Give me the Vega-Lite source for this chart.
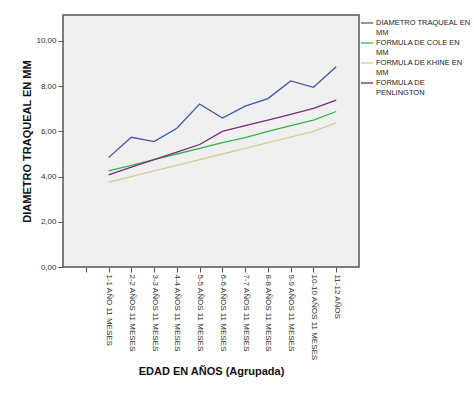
{
  "$schema": "https://vega.github.io/schema/vega-lite/v6.json",
  "autosize": {"type": "none"},
  "padding": {"left": 63, "top": 15, "right": 115, "bottom": 132},
  "width": 296,
  "height": 252,
  "background": "white",
  "config": {
    "font": "Liberation Sans",
    "view": {"fill": "#F0F0F0", "stroke": "#555555", "strokeWidth": 1.5},
    "axis": {"grid": false, "domain": false, "tickColor": "#555555", "tickSize": 5, "labelColor": "#333333", "labelFontSize": 8, "titleFontSize": 11, "titleFontWeight": "bold", "titleColor": "#111111"}
  },
  "data": {
    "values": [
      {"edad": "1-1 AÑO 11 MESES", "serie": "DIAMETRO TRAQUEAL EN MM", "valor": 4.84},
      {"edad": "2-2 AÑOS 11 MESES", "serie": "DIAMETRO TRAQUEAL EN MM", "valor": 5.74},
      {"edad": "3-3 AÑOS 11 MESES", "serie": "DIAMETRO TRAQUEAL EN MM", "valor": 5.55},
      {"edad": "4-4 AÑOS 11 MESES", "serie": "DIAMETRO TRAQUEAL EN MM", "valor": 6.14},
      {"edad": "5-5 AÑOS 11 MESES", "serie": "DIAMETRO TRAQUEAL EN MM", "valor": 7.21},
      {"edad": "6-6 AÑOS 11 MESES", "serie": "DIAMETRO TRAQUEAL EN MM", "valor": 6.59},
      {"edad": "7-7 AÑOS 11 MESES", "serie": "DIAMETRO TRAQUEAL EN MM", "valor": 7.12},
      {"edad": "8-8 AÑOS 11 MESES", "serie": "DIAMETRO TRAQUEAL EN MM", "valor": 7.45},
      {"edad": "9-9 AÑOS 11 MESES", "serie": "DIAMETRO TRAQUEAL EN MM", "valor": 8.23},
      {"edad": "10-10 AÑOS 11 MESES", "serie": "DIAMETRO TRAQUEAL EN MM", "valor": 7.95},
      {"edad": "11-12 AÑOS", "serie": "DIAMETRO TRAQUEAL EN MM", "valor": 8.86},
      {"edad": "1-1 AÑO 11 MESES", "serie": "FORMULA DE COLE EN MM", "valor": 4.25},
      {"edad": "2-2 AÑOS 11 MESES", "serie": "FORMULA DE COLE EN MM", "valor": 4.5},
      {"edad": "3-3 AÑOS 11 MESES", "serie": "FORMULA DE COLE EN MM", "valor": 4.75},
      {"edad": "4-4 AÑOS 11 MESES", "serie": "FORMULA DE COLE EN MM", "valor": 5.0},
      {"edad": "5-5 AÑOS 11 MESES", "serie": "FORMULA DE COLE EN MM", "valor": 5.25},
      {"edad": "6-6 AÑOS 11 MESES", "serie": "FORMULA DE COLE EN MM", "valor": 5.5},
      {"edad": "7-7 AÑOS 11 MESES", "serie": "FORMULA DE COLE EN MM", "valor": 5.72},
      {"edad": "8-8 AÑOS 11 MESES", "serie": "FORMULA DE COLE EN MM", "valor": 6.0},
      {"edad": "9-9 AÑOS 11 MESES", "serie": "FORMULA DE COLE EN MM", "valor": 6.25},
      {"edad": "10-10 AÑOS 11 MESES", "serie": "FORMULA DE COLE EN MM", "valor": 6.5},
      {"edad": "11-12 AÑOS", "serie": "FORMULA DE COLE EN MM", "valor": 6.88},
      {"edad": "1-1 AÑO 11 MESES", "serie": "FORMULA DE KHINE EN MM", "valor": 3.75},
      {"edad": "2-2 AÑOS 11 MESES", "serie": "FORMULA DE KHINE EN MM", "valor": 4.0},
      {"edad": "3-3 AÑOS 11 MESES", "serie": "FORMULA DE KHINE EN MM", "valor": 4.25},
      {"edad": "4-4 AÑOS 11 MESES", "serie": "FORMULA DE KHINE EN MM", "valor": 4.5},
      {"edad": "5-5 AÑOS 11 MESES", "serie": "FORMULA DE KHINE EN MM", "valor": 4.75},
      {"edad": "6-6 AÑOS 11 MESES", "serie": "FORMULA DE KHINE EN MM", "valor": 5.0},
      {"edad": "7-7 AÑOS 11 MESES", "serie": "FORMULA DE KHINE EN MM", "valor": 5.25},
      {"edad": "8-8 AÑOS 11 MESES", "serie": "FORMULA DE KHINE EN MM", "valor": 5.5},
      {"edad": "9-9 AÑOS 11 MESES", "serie": "FORMULA DE KHINE EN MM", "valor": 5.75},
      {"edad": "10-10 AÑOS 11 MESES", "serie": "FORMULA DE KHINE EN MM", "valor": 6.0},
      {"edad": "11-12 AÑOS", "serie": "FORMULA DE KHINE EN MM", "valor": 6.38},
      {"edad": "1-1 AÑO 11 MESES", "serie": "FORMULA DE PENLINGTON", "valor": 4.08},
      {"edad": "2-2 AÑOS 11 MESES", "serie": "FORMULA DE PENLINGTON", "valor": 4.42},
      {"edad": "3-3 AÑOS 11 MESES", "serie": "FORMULA DE PENLINGTON", "valor": 4.75},
      {"edad": "4-4 AÑOS 11 MESES", "serie": "FORMULA DE PENLINGTON", "valor": 5.08},
      {"edad": "5-5 AÑOS 11 MESES", "serie": "FORMULA DE PENLINGTON", "valor": 5.42},
      {"edad": "6-6 AÑOS 11 MESES", "serie": "FORMULA DE PENLINGTON", "valor": 6.0},
      {"edad": "7-7 AÑOS 11 MESES", "serie": "FORMULA DE PENLINGTON", "valor": 6.25},
      {"edad": "8-8 AÑOS 11 MESES", "serie": "FORMULA DE PENLINGTON", "valor": 6.5},
      {"edad": "9-9 AÑOS 11 MESES", "serie": "FORMULA DE PENLINGTON", "valor": 6.75},
      {"edad": "10-10 AÑOS 11 MESES", "serie": "FORMULA DE PENLINGTON", "valor": 7.02},
      {"edad": "11-12 AÑOS", "serie": "FORMULA DE PENLINGTON", "valor": 7.38}
    ]
  },
  "mark": {"type": "line", "strokeWidth": 1.3},
  "encoding": {
    "x": {
      "field": "edad", "type": "ordinal",
      "scale": {"type": "point", "padding": 1.14, "domain": [" ", "1-1 AÑO 11 MESES", "2-2 AÑOS 11 MESES", "3-3 AÑOS 11 MESES", "4-4 AÑOS 11 MESES", "5-5 AÑOS 11 MESES", "6-6 AÑOS 11 MESES", "7-7 AÑOS 11 MESES", "8-8 AÑOS 11 MESES", "9-9 AÑOS 11 MESES", "10-10 AÑOS 11 MESES", "11-12 AÑOS"]},
      "sort": null,
      "axis": {"title": "EDAD EN AÑOS (Agrupada)", "labelAngle": 90, "labelAlign": "left", "labelBaseline": "middle", "labelPadding": 2, "titlePadding": 5, "labelLimit": 200}
    },
    "y": {
      "field": "valor", "type": "quantitative",
      "scale": {"domain": [0, 11.15], "nice": false},
      "axis": {"title": "DIAMETRO TRAQUEAL EN MM", "values": [0, 2, 4, 6, 8, 10], "labelExpr": "replace(format(datum.value, '.2f'), '.', ',')", "labelPadding": 2, "titlePadding": 3}
    },
    "color": {
      "field": "serie", "type": "nominal",
      "scale": {"domain": ["DIAMETRO TRAQUEAL EN MM", "FORMULA DE COLE EN MM", "FORMULA DE KHINE EN MM", "FORMULA DE PENLINGTON"], "range": ["#3E58AC", "#2EB848", "#D3CE97", "#7C287D"]},
      "legend": {
        "title": null, "orient": "none", "legendX": 297, "legendY": 1,
        "symbolType": "stroke", "symbolSize": 150, "symbolStrokeWidth": 1.3, "labelOffset": 2,
        "labelFontSize": 7.5, "labelColor": "#222222", "labelLimit": 200, "rowPadding": 0,
        "labelExpr": "datum.label == 'FORMULA DE PENLINGTON' ? ['FORMULA DE', 'PENLINGTON'] : [slice(datum.label, 0, -3), 'MM']"
      }
    }
  }
}
